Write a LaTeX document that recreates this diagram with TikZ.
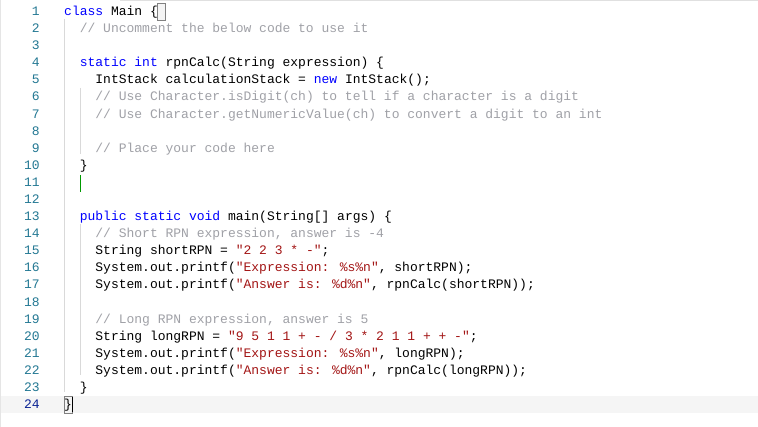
\documentclass[tikz,border=0pt]{standalone}
\usepackage{fontspec}
\newfontfamily\code{Liberation Mono}
\usepackage{xcolor}
\definecolor{kw}{HTML}{0000FF}
\definecolor{cm}{HTML}{A0A1A7}
\definecolor{st}{HTML}{A31515}
\definecolor{ln}{HTML}{237893}
\newcommand{\K}[1]{\textcolor{kw}{#1}}
\newcommand{\C}[1]{\textcolor{cm}{#1}}
\newcommand{\Sq}[1]{\textcolor{st}{#1}}
\begin{document}
\begin{tikzpicture}[x=1pt,y=-1pt,
  codeline/.style={anchor=base west,inner sep=0pt,font=\code\fontsize{13}{13}\selectfont},
  numline/.style={anchor=base east,inner sep=0pt,text=ln,font=\code\fontsize{13}{13}\selectfont},
  guide/.style={draw=black!15,line width=0.8pt}]
\useasboundingbox (0,0) rectangle (758,427);
\fill[white] (0,0) rectangle (758,427);
\fill[black!4] (0,396) rectangle (758,413);
\draw[black!12,line width=1.5pt] (120,0.5) -- (758,0.5);
\draw[black!10] (0.5,0) -- (0.5,427);
% indent guides
\draw[guide] (64.5,19) -- (64.5,392);
\draw[guide] (80.5,88) -- (80.5,154);
\draw[guide] (80.5,224) -- (80.5,375);
% cursor
\draw[green!60!black,line width=1pt] (80.5,175) -- (80.5,192);
\foreach \n in {1,...,23} {
  \node[numline] (n\n) at (40,{15.5+(\n-1)*17.09}) {\n};
}
\node[numline,text=ln!40!blue!70!black] (n24) at (40,{15.5+23*17.09}) {24};
\def\Y#1{{15.5+(#1-1)*17.09}}
\node[codeline] (l1) at (64,\Y1) {\K{class} Main \{};
\node[codeline] (l2) at (79.6,\Y2) {\C{// Uncomment the below code to use it}};
\node[codeline] (l4) at (79.6,\Y4) {\K{static} \K{int} rpnCalc(String expression) \{};
\node[codeline] (l5) at (95.2,\Y5) {IntStack calculationStack = \K{new} IntStack();};
\node[codeline] (l6) at (95.2,\Y6) {\C{// Use Character.isDigit(ch) to tell if a character is a digit}};
\node[codeline] (l7) at (95.2,\Y7) {\C{// Use Character.getNumericValue(ch) to convert a digit to an int}};
\node[codeline] (l9) at (95.2,\Y9) {\C{// Place your code here}};
\node[codeline] (l10) at (79.6,\Y{10}) {\}};
\node[codeline] (l13) at (79.6,\Y{13}) {\K{public} \K{static} \K{void} main(String[] args) \{};
\node[codeline] (l14) at (95.2,\Y{14}) {\C{// Short RPN expression, answer is -4}};
\node[codeline] (l15) at (95.2,\Y{15}) {String shortRPN = \Sq{"2 2 3 * -"};};
\node[codeline] (l16) at (95.2,\Y{16}) {System.out.printf(\Sq{"Expression: \%s\%n"}, shortRPN);};
\node[codeline] (l17) at (95.2,\Y{17}) {System.out.printf(\Sq{"Answer is: \%d\%n"}, rpnCalc(shortRPN));};
\node[codeline] (l19) at (95.2,\Y{19}) {\C{// Long RPN expression, answer is 5}};
\node[codeline] (l20) at (95.2,\Y{20}) {String longRPN = \Sq{"9 5 1 1 + - / 3 * 2 1 1 + + -"};};
\node[codeline] (l21) at (95.2,\Y{21}) {System.out.printf(\Sq{"Expression: \%s\%n"}, longRPN);};
\node[codeline] (l22) at (95.2,\Y{22}) {System.out.printf(\Sq{"Answer is: \%d\%n"}, rpnCalc(longRPN));};
\node[codeline] (l23) at (79.6,\Y{23}) {\}};
\node[codeline] (l24) at (64,\Y{24}) {\}};
% bracket match boxes
\draw[black!50,fill=black!8,fill opacity=0.5] (157,3) rectangle (165,20);
\draw[black!50] (64,396) rectangle (72,413);
\draw[black,line width=0.9pt] (72.5,397) -- (72.5,412);
\end{tikzpicture}
\end{document}
